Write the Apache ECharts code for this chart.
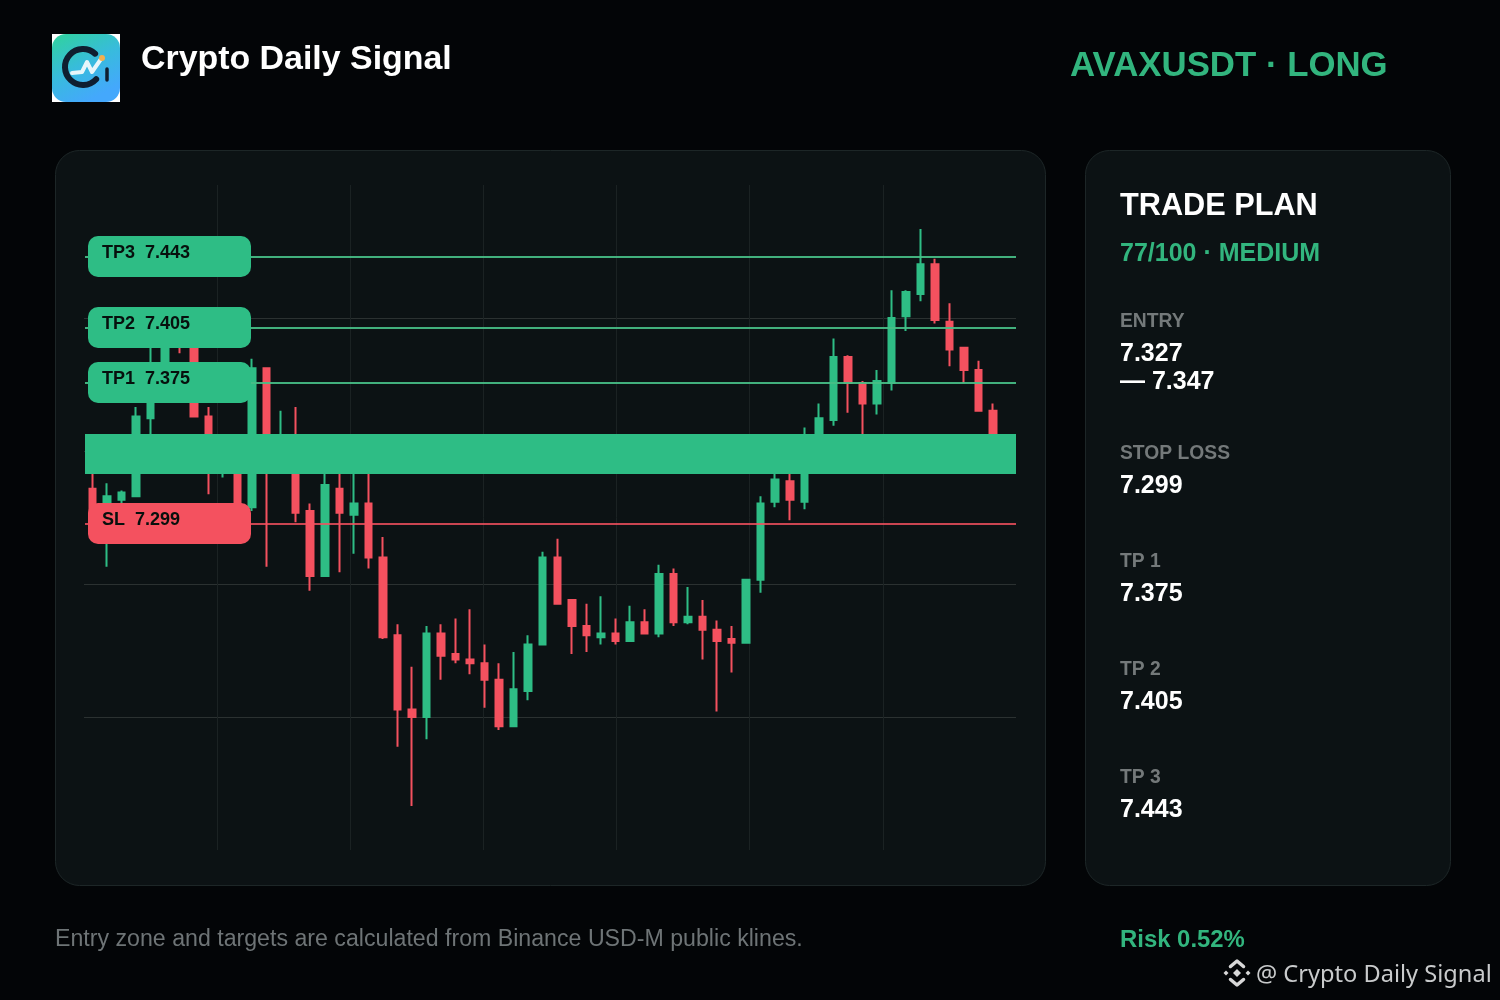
<!DOCTYPE html>
<html>
<head>
<meta charset="utf-8">
<style>html,body{margin:0;padding:0;background:#030507}#c{width:1500px;height:1000px}</style>
<script src="https://cdn.jsdelivr.net/npm/echarts@6/dist/echarts.min.js"></script>
</head>
<body>
<div id="c"></div>
<script>
const opens  = [7.318,7.310,7.312,7.314,7.356,7.370,7.411,7.399,7.357,7.333,7.344,7.308,7.383,7.329,7.342,7.306,7.271,7.318,7.304,7.310,7.281,7.239,7.199,7.195,7.240,7.229,7.226,7.224,7.215,7.190,7.209,7.234,7.281,7.258,7.244,7.238,7.240,7.236,7.246,7.240,7.272,7.246,7.249,7.242,7.237,7.235,7.269,7.311,7.322,7.311,7.339,7.355,7.389,7.375,7.364,7.375,7.411,7.423,7.439,7.408,7.394,7.382,7.360];
const closes = [7.305,7.314,7.316,7.357,7.377,7.401,7.399,7.357,7.336,7.342,7.305,7.383,7.333,7.344,7.305,7.271,7.320,7.305,7.310,7.281,7.238,7.199,7.195,7.240,7.228,7.226,7.224,7.215,7.190,7.210,7.234,7.281,7.256,7.244,7.239,7.240,7.236,7.246,7.240,7.272,7.246,7.249,7.242,7.236,7.235,7.269,7.310,7.323,7.312,7.339,7.356,7.389,7.375,7.364,7.376,7.410,7.424,7.439,7.409,7.393,7.382,7.360,7.342];
const lows   = [7.303,7.276,7.310,7.314,7.344,7.368,7.391,7.357,7.315,7.324,7.304,7.306,7.276,7.327,7.300,7.263,7.271,7.273,7.283,7.275,7.237,7.179,7.147,7.183,7.215,7.224,7.218,7.200,7.188,7.190,7.204,7.234,7.256,7.229,7.230,7.234,7.234,7.236,7.240,7.238,7.244,7.245,7.226,7.198,7.219,7.235,7.262,7.308,7.301,7.307,7.336,7.352,7.359,7.344,7.358,7.371,7.403,7.419,7.407,7.384,7.375,7.360,7.339];
const highs  = [7.328,7.321,7.317,7.362,7.398,7.406,7.414,7.404,7.362,7.345,7.346,7.388,7.383,7.360,7.362,7.310,7.328,7.328,7.328,7.328,7.292,7.245,7.222,7.244,7.245,7.248,7.253,7.234,7.224,7.230,7.239,7.284,7.291,7.258,7.256,7.260,7.248,7.255,7.253,7.277,7.275,7.265,7.258,7.247,7.244,7.269,7.314,7.331,7.331,7.351,7.364,7.399,7.390,7.376,7.382,7.425,7.425,7.458,7.442,7.418,7.394,7.387,7.364];
const categories = opens.map((_, i) => 'K' + (i + 1)).concat(['']);
const entryZone = [7.327, 7.347];
const levelNames = ['TP3', 'TP2', 'TP1', 'SL'];
const levelPrices = [7.443, 7.405, 7.375, 7.299];
const planLabels = ['ENTRY', 'STOP LOSS', 'TP 1', 'TP 2', 'TP 3'];
const planValues = [['7.327', '— 7.347'], ['7.299'], ['7.375'], ['7.405'], ['7.443']];

const GREEN = '#2EBD85', RED = '#F4515F', TEXTGREEN = '#32B57E';
const SANS = '"Liberation Sans", Arial, sans-serif';
const candleData = opens.map((o, i) => [o, closes[i], lows[i], highs[i]]);

function txt(text, x, y, font, fill, align) {
  return { type: 'text', z: 10, silent: true, style: { text, x, y, font, fill, textAlign: align || 'left', textVerticalAlign: 'middle' } };
}
function panel(x, y, w, h) {
  return { type: 'rect', z: -1, silent: true, shape: { x, y, width: w, height: h, r: 24 }, style: { fill: '#0C1214', stroke: '#1D2627', lineWidth: 1 } };
}
function poly(points, stroke, lineWidth) {
  return { type: 'polyline', z: 11, silent: true, shape: { points }, style: { stroke, lineWidth, fill: null, lineJoin: 'round', lineCap: 'round' } };
}
function diamond(cx, cy, r, fill) {
  return { type: 'polygon', z: 11, silent: true, shape: { points: [[cx, cy - r], [cx + r, cy], [cx, cy + r], [cx - r, cy]] }, style: { fill } };
}
function levelY(api) {
  return Math.ceil(api.coord([0, api.value(1)])[1] - 0.01);
}

const elements = [
  panel(55.5, 150.5, 990, 735),
  panel(1085.5, 150.5, 365, 735),
  { type: 'rect', z: 10, silent: true, shape: { x: 52, y: 34, width: 68, height: 68 }, style: { fill: '#FFFFFF' } },
  { type: 'rect', z: 10, silent: true, shape: { x: 52, y: 34, width: 68, height: 68, r: 14 }, style: { fill: new echarts.graphic.LinearGradient(0, 0, 0.5, 1, [{ offset: 0, color: '#30D39B' }, { offset: 0.55, color: '#38BBDD' }, { offset: 1, color: '#44A8FC' }]) } },
  { type: 'arc', z: 11, silent: true, shape: { cx: 83, cy: 67, r: 18, startAngle: 0.75, endAngle: 5.45, clockwise: true }, style: { stroke: '#0F1E30', lineWidth: 6, fill: null, lineCap: 'round' } },
  poly([[72, 73], [82, 72], [87, 62], [92, 72], [101, 59]], '#E8F6FA', 4),
  { type: 'circle', z: 12, silent: true, shape: { cx: 102, cy: 58, r: 3 }, style: { fill: '#F2B04E' } },
  poly([[107, 69], [107, 80]], '#0F1E30', 3.5),
  txt('Crypto Daily Signal', 141, 60, 'bold 33.9px ' + SANS, '#FFFFFF'),
  txt('AVAXUSDT · LONG', 1070, 66, 'bold 34.8px ' + SANS, TEXTGREEN),
  txt('TRADE PLAN', 1120, 207, 'bold 30.7px ' + SANS, '#FFFFFF'),
  txt('77/100 · MEDIUM', 1120, 254, 'bold 25px ' + SANS, TEXTGREEN),
  txt('Entry zone and targets are calculated from Binance USD-M public klines.', 55, 940, '23.16px ' + SANS, '#6E7476'),
  txt('Risk 0.52%', 1120, 940, 'bold 23.9px ' + SANS, TEXTGREEN),
  txt('@ Crypto Daily Signal', 1256, 975, '23.6px "Noto Sans", sans-serif', '#C9CBCC'),
  diamond(1237, 973, 4, '#D8D8D8'), diamond(1226, 973, 2.5, '#D8D8D8'), diamond(1248, 973, 2.5, '#D8D8D8'),
  poly([[1230.5, 966.5], [1237, 961], [1243.5, 966.5]], '#D8D8D8', 3.5),
  poly([[1230.5, 979.5], [1237, 985], [1243.5, 979.5]], '#D8D8D8', 3.5)
];
const planYs = [322, 454, 562, 670, 778];
planLabels.forEach((label, i) => {
  elements.push(txt(label, 1120, planYs[i], 'bold 19.3px ' + SANS, '#74797A'));
  planValues[i].forEach((v, j) => elements.push(txt(v, 1120, planYs[i] + 32 + j * 28, 'bold 25px ' + SANS, '#FFFFFF')));
});

const chart = echarts.init(document.getElementById('c'), null, { width: 1500, height: 1000 });
chart.setOption({
  animation: false,
  backgroundColor: '#030507',
  graphic: { elements },
  grid: [
    { left: 85, top: 185, width: 930, height: 665 },
    { left: 84, top: 185, width: 932, height: 665 }
  ],
  xAxis: [
    { type: 'category', gridIndex: 0, data: categories, boundaryGap: true, axisLine: { show: false }, axisTick: { show: false }, axisLabel: { show: false }, splitLine: { show: false } },
    { type: 'value', gridIndex: 1, min: 0, max: 7, interval: 1, axisLine: { show: false }, axisTick: { show: false }, axisLabel: { show: false },
      splitLine: { show: true, showMinLine: false, showMaxLine: false, lineStyle: { color: '#1B2223', width: 1 } } }
  ],
  yAxis: [
    { type: 'value', gridIndex: 0, min: 7.1233, max: 7.4817, axisLine: { show: false }, axisTick: { show: false }, axisLabel: { show: false }, splitLine: { show: false } },
    { type: 'value', gridIndex: 1, min: 0, max: 5, interval: 1, axisLine: { show: false }, axisTick: { show: false }, axisLabel: { show: false },
      splitLine: { show: true, showMinLine: false, showMaxLine: false, lineStyle: { color: '#2B3131', width: 1 } } }
  ],
  series: [
    { type: 'candlestick', z: 2, xAxisIndex: 0, yAxisIndex: 0, data: candleData, barWidth: 7, silent: true,
      itemStyle: { color: GREEN, color0: RED, borderColor: GREEN, borderColor0: RED, borderWidth: 2 } },
    { type: 'custom', z: 3, xAxisIndex: 0, yAxisIndex: 0, silent: true, clip: false, data: [[0, entryZone[0], entryZone[1]]], encode: { x: 0, y: [1, 2] },
      renderItem(params, api) {
        const cs = params.coordSys;
        const y0 = api.coord([0, api.value(2)])[1], y1 = api.coord([0, api.value(1)])[1];
        return { type: 'rect', shape: { x: cs.x, y: Math.round(y0) - 1, width: cs.width + 1, height: Math.round(y1) - Math.round(y0) + 3 }, style: { fill: GREEN } };
      } },
    { type: 'custom', z: 4, xAxisIndex: 0, yAxisIndex: 0, silent: true, clip: false, data: levelPrices.map(p => [0, p]), encode: { x: 0, y: 1 },
      renderItem(params, api) {
        const cs = params.coordSys, y = levelY(api);
        const fill = levelNames[params.dataIndex] === 'SL' ? 'rgba(244,81,95,0.82)' : 'rgba(72,190,135,0.92)';
        return { type: 'rect', shape: { x: cs.x, y: y - 1, width: cs.width + 1, height: 2 }, style: { fill } };
      } },
    { type: 'custom', z: 5, xAxisIndex: 0, yAxisIndex: 0, silent: true, clip: false, data: levelPrices.map(p => [0, p]), encode: { x: 0, y: 1 },
      renderItem(params, api) {
        const y = levelY(api), name = levelNames[params.dataIndex];
        return { type: 'group', children: [
          { type: 'rect', shape: { x: 88, y: y - 21, width: 163, height: 41, r: 10 }, style: { fill: name === 'SL' ? RED : GREEN } },
          { type: 'text', style: { x: 102, y: y - 4, text: name + '  ' + api.value(1).toFixed(3), font: 'bold 18px ' + SANS, fill: '#07100D', textVerticalAlign: 'middle' } }
        ] };
      } }
  ]
});
</script>
</body>
</html>
